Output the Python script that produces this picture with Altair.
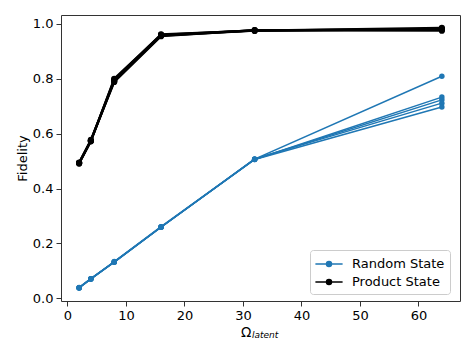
import altair as alt
import pandas as pd

x_vals = [2, 4, 8, 16, 32, 64]

random_runs = [
    [0.039, 0.071, 0.133, 0.259, 0.507, 0.809],
    [0.038, 0.072, 0.132, 0.260, 0.506, 0.733],
    [0.039, 0.070, 0.134, 0.261, 0.507, 0.723],
    [0.040, 0.072, 0.133, 0.259, 0.508, 0.711],
    [0.038, 0.071, 0.132, 0.260, 0.506, 0.697],
]
product_runs = [
    [0.494, 0.574, 0.793, 0.957, 0.975, 0.985],
    [0.491, 0.572, 0.800, 0.960, 0.976, 0.978],
    [0.495, 0.577, 0.788, 0.955, 0.977, 0.975],
    [0.493, 0.575, 0.797, 0.962, 0.975, 0.982],
    [0.492, 0.573, 0.791, 0.958, 0.976, 0.980],
]
series_names = ["Random State", "Product State"]
series_colors = ["#1f77b4", "#000000"]
x_ticks = [0, 10, 20, 30, 40, 50, 60]
y_ticks = [0.0, 0.2, 0.4, 0.6, 0.8, 1.0]

rows = []
for name, runs in zip(series_names, [random_runs, product_runs]):
    for i, run in enumerate(runs):
        for x, y in zip(x_vals, run):
            rows.append({"series": name, "run": f"{name}-{i}", "x": x, "y": y})
df = pd.DataFrame(rows)

FONT = "DejaVu Sans"

def circ(rad):
    return f"M{-rad},0A{rad},{rad},0,1,0,{rad},0A{rad},{rad},0,1,0,{-rad},0"
sym_path = "M-1.7,0H1.7" + circ(0.3125) + circ(0.1875) + circ(0.0625)

color_scale = alt.Scale(domain=series_names, range=series_colors)
xenc = alt.X("x:Q", scale=alt.Scale(domain=[-1.1, 67.1], nice=False, zero=False),
             axis=alt.Axis(values=x_ticks, title=None))
yenc = alt.Y("y:Q", scale=alt.Scale(domain=[-0.0095, 1.032], nice=False, zero=False),
             axis=alt.Axis(values=y_ticks, format=".1f", title="Fidelity",
                           titleX=-35, titleBaseline="alphabetic"))

legend = alt.Legend(
    title=None, orient="none", legendX=249, legendY=235,
    symbolType=sym_path, symbolSize=256, symbolStrokeWidth=1.5,
    symbolOffset=5, labelOffset=14,
    labelFont=FONT, labelFontSize=13, labelColor="black",
    labelExpr="datum.label + '  '",
    padding=5, rowPadding=2, fillColor="white", strokeColor="#cccccc",
    cornerRadius=3,
)

base = alt.Chart(df)
lines_r = base.transform_filter(alt.datum.series == "Random State").mark_line(strokeWidth=1.5).encode(
    x=xenc, y=yenc, detail="run:N",
    color=alt.Color("series:N", scale=color_scale, legend=legend))
pts_r = base.transform_filter(alt.datum.series == "Random State").mark_point(filled=True, size=30, opacity=1).encode(
    x=xenc, y=yenc, color=alt.Color("series:N", scale=color_scale, legend=None))
lines_p = base.transform_filter(alt.datum.series == "Product State").mark_line(strokeWidth=2.2).encode(
    x=xenc, y=yenc, detail="run:N",
    color=alt.Color("series:N", scale=color_scale, legend=legend))
pts_p = base.transform_filter(alt.datum.series == "Product State").mark_point(filled=True, size=38, opacity=1).encode(
    x=xenc, y=yenc, color=alt.Color("series:N", scale=color_scale, legend=None))

title_main = alt.Chart(pd.DataFrame({"t": ["Ω"]})).mark_text(
    align="left", baseline="alphabetic", fontSize=13.5, font=FONT, color="black"
).encode(x=alt.value(180), y=alt.value(322), text="t:N")
title_sub = alt.Chart(pd.DataFrame({"t": ["latent"]})).mark_text(
    align="left", baseline="alphabetic", fontSize=9, font=FONT, fontStyle="italic", color="black"
).encode(x=alt.value(191), y=alt.value(323), text="t:N")

chart = alt.layer(lines_r, pts_r, lines_p, pts_p, title_main, title_sub).properties(
    width=399, height=286,
    padding={"left": 53, "top": 7, "right": 6, "bottom": 46},
    autosize="none",
).configure_view(stroke="#333333", strokeWidth=1).configure_axis(
    grid=False, domain=False, tickColor="#333333", tickSize=5, tickWidth=1,
    labelPadding=3, labelFont=FONT, labelFontSize=13, labelColor="black",
    titleFont=FONT, titleFontSize=13, titleFontWeight="normal", titleColor="black",
)

chart.save("out.html", embed_options={"renderer": "svg", "actions": False})
